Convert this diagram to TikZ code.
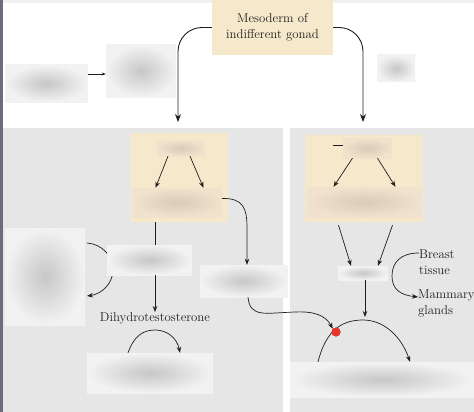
\documentclass[tikz,border=0pt]{standalone}
\usetikzlibrary{arrows.meta,calc}
\definecolor{beige}{HTML}{F6E8CB}
\definecolor{panel}{HTML}{E7E6E6}
\definecolor{ink}{HTML}{1E1E1E}
\definecolor{dotred}{HTML}{E8352B}
\definecolor{edge}{HTML}{6E6B7A}
\begin{document}
\begin{tikzpicture}[x=1pt,y=-1pt,
  txt/.style={font=\fontsize{12.8}{16}\selectfont, text=ink, inner sep=0pt},
  blurgray/.style={draw=none, inner sep=0pt, shading=radial, inner color=black!22, outer color=black!5},
  blurbeige/.style={draw=none, inner sep=0pt, shading=radial, inner color={rgb,255:red,218;green,202;blue,182}, outer color={rgb,255:red,240;green,226;blue,204}},
  bigarr/.style={draw=ink, line width=0.9pt, -{Stealth[length=8pt,width=6pt]}},
  arr/.style={draw=ink, line width=0.7pt, -{Stealth[length=6pt,width=4.5pt]}},
  plain/.style={draw=ink, line width=0.7pt}]
\useasboundingbox (0,0) rectangle (474,412);
\fill[white] (0,0) rectangle (474,412);
\fill[black!6] (0,0) rectangle (474,3);
\fill[edge] (0,0) rectangle (3,412);
% panels
\fill[panel] (3,128) rectangle (283,412);
\fill[panel] (290,128) rectangle (474,412);
% beige boxes
\fill[beige] (131,133) rectangle (228,222);
\fill[beige] (305,135) rectangle (423,222);
% top
\node[txt, fill=beige, minimum width=121pt, minimum height=55pt, align=center] (meso) at (272.5,27.5) {Mesoderm of\\indifferent gonad};
\node[blurgray, minimum width=83pt, minimum height=37pt] (blurA) at (46.5,83.5) {};
\node[blurgray, minimum width=70pt, minimum height=52pt] (blurB) at (141,71) {};
\node[blurgray, minimum width=38pt, minimum height=27pt] (blurC) at (396,68.5) {};
\draw[draw=ink, line width=0.6pt, -{Stealth[length=4pt,width=3pt]}] (blurA.east |- 0,74) -- (blurB.west |- 0,74);
\coordinate (lpanel) at (178,122);
\coordinate (rpanel) at (363,122);
\draw[bigarr, rounded corners=24pt] (meso.west) -| (lpanel);
\draw[bigarr, rounded corners=24pt] (meso.east) -| (rpanel);
% curves passing behind boxes
\coordinate (c1s) at (87,243);
\coordinate (c1e) at (87,296);
\draw[arr] (c1s) .. controls (102,244) and (113,256) .. (113,270) .. controls (113,283) and (102,294) .. (c1e);
% left column boxes
\node[blurbeige, minimum width=48pt, minimum height=16pt] (ltop) at (181,148) {};
\node[blurbeige, minimum width=89pt, minimum height=29pt] (llow) at (177.5,202.5) {};
\node[blurgray, minimum width=85pt, minimum height=30pt] (lmid) at (149.5,260) {};
\node[blurgray, minimum width=80pt, minimum height=97pt] (lleft) at (45,276.5) {};
\node[blurgray, minimum width=87pt, minimum height=32pt] (lright) at (244,281) {};
\node[txt] (dht) at (155,318) {Dihydrotestosterone};
\node[blurgray, minimum width=126pt, minimum height=40pt] (lbot) at (150,373) {};
\draw[arr] ([xshift=-13pt]ltop.south) -- ([xshift=-22pt]llow.north);
\draw[arr] ([xshift=9pt]ltop.south) -- ([xshift=26pt]llow.north);
\draw[plain] (155,222) -- (lmid.north -| 155,0);
\draw[arr] (lmid.south -| 155,0) -- (dht.north -| 155,0);
\draw[arr] ([yshift=4pt]llow.east) .. controls (243,198) and (247,208) .. (247,228) -- (lright.north -| 247,0);
\draw[arr] ([xshift=-22pt]lbot.north) .. controls (134,336) and (143,330) .. (155,330) .. controls (167,330) and (177,338) .. ([xshift=30pt]lbot.north);
% right column
\node[blurbeige, minimum width=49pt, minimum height=20pt] (rtop) at (367.5,148) {};
\node[blurbeige, minimum width=115pt, minimum height=30pt] (rlow) at (364.5,202) {};
\draw[ink, line width=0.7pt] (333,145) -- (rtop.west |- 0,145);
\node[blurgray, minimum width=50pt, minimum height=14pt] (rmid) at (363,273) {};
\node[blurgray, minimum width=184pt, minimum height=35pt] (rbot) at (382,379.5) {};
\draw[arr] ([xshift=-15pt]rtop.south) -- ([xshift=-31pt]rlow.north);
\draw[arr] ([xshift=10pt]rtop.south) -- ([xshift=31pt]rlow.north);
\draw[arr] ([xshift=-26pt,yshift=-8pt]rlow.south) -- ([xshift=-12pt]rmid.north);
\draw[arr] ([xshift=28pt,yshift=-8pt]rlow.south) -- ([xshift=15pt]rmid.north);
\node[txt, anchor=west, align=left] (breast) at (419,262) {Breast\\tissue};
\node[txt, anchor=west, align=left] (mamm) at (418,303) {Mammary\\glands};
\draw[arr] ([yshift=9pt]breast.west) .. controls (401,253) and (392,262) .. (392,276) .. controls (392,289) and (400,295) .. ([yshift=6pt]mamm.west);
\draw[arr] ([xshift=2pt]rmid.south) -- (365,317);
% red dot and arcs
\node[circle, fill=dotred, minimum size=9pt, inner sep=0pt] (dot) at (336,332) {};
\draw[arr] (lright.south -| 248,0) .. controls (250,318) and (265,313) .. (295,312) .. controls (315,311) and (326,316) .. (dot.north west);
\draw[arr] ([xshift=-64pt]rbot.north) .. controls (326,330) and (342,320) .. (363,320) .. controls (385,320) and (402,338) .. ([xshift=28pt]rbot.north);
\node[circle, fill=dotred, minimum size=9pt, inner sep=0pt] at (dot) {};
\end{tikzpicture}
\end{document}
